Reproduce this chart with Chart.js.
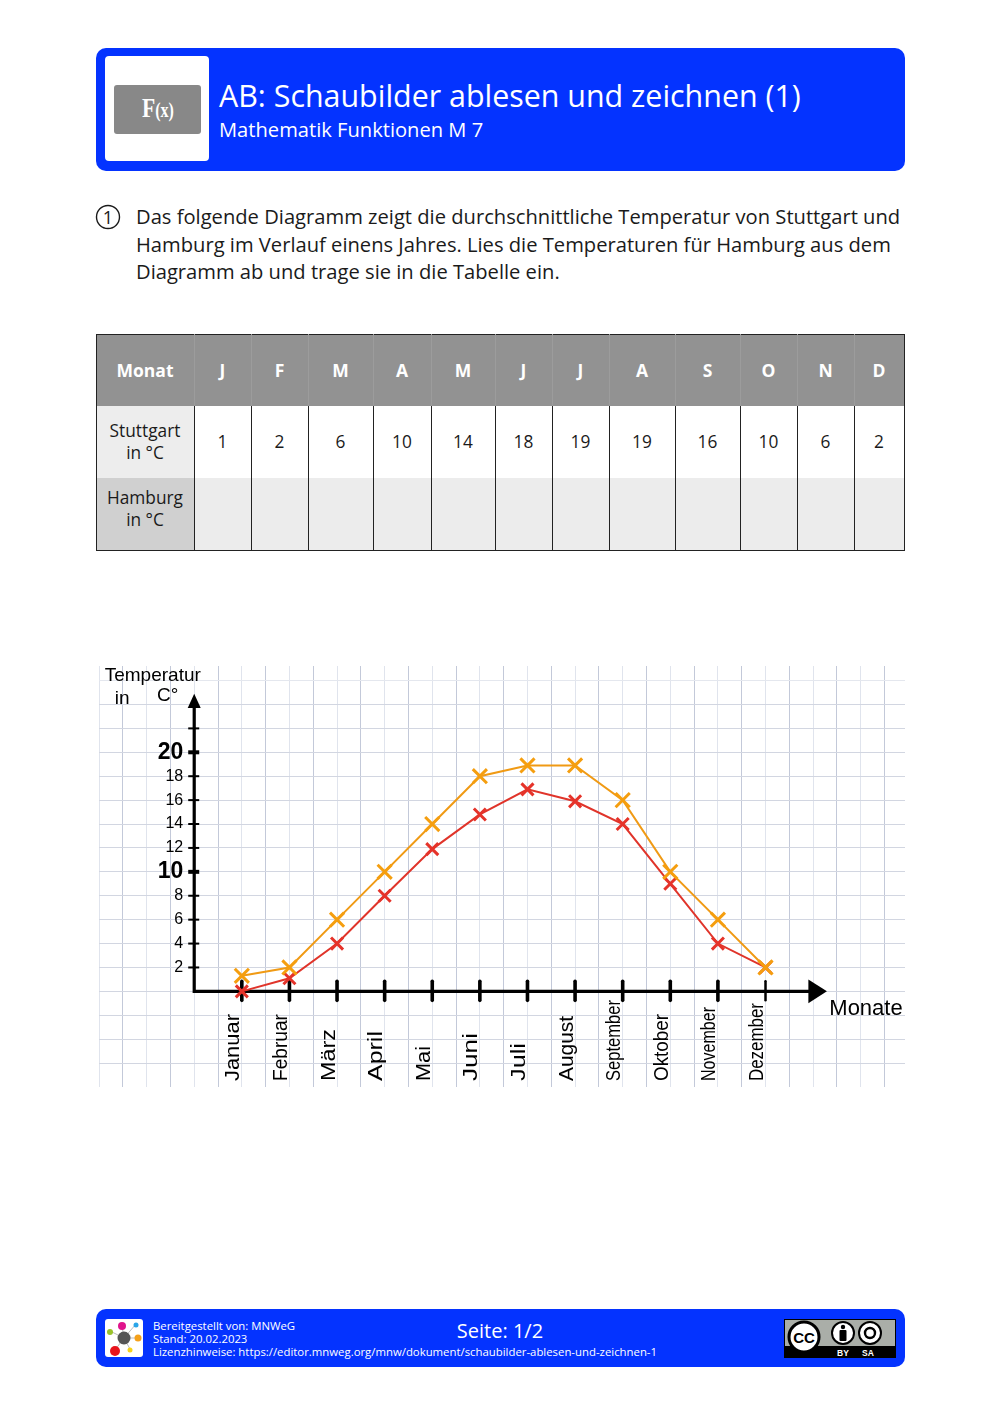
<!DOCTYPE html>
<html lang="de">
<head>
<meta charset="utf-8">
<title>AB: Schaubilder ablesen und zeichnen (1)</title>
<script src="https://cdn.jsdelivr.net/npm/chart.js@4"></script>
<style>
  html, body { margin: 0; padding: 0; background: #fff; }
  body { width: 1000px; height: 1416px; position: relative; overflow: hidden; font-family: "Open Sans", sans-serif; color: #1a1a1a; }
  .abs { position: absolute; }
  .bar { position: absolute; left: 96px; width: 809px; background: #0433ff; border-radius: 10px; color: #fff; }
  #chartBox { position: absolute; left: 98.9px; top: 666px; width: 806px; height: 421px; }
  table { position: absolute; left: 95.5px; top: 334px; width: 808px; height: 215.5px; border-collapse: collapse; table-layout: fixed; border: 1.5px solid #222; }
  th { background: #929292; color: #fff; font-size: 17.5px; font-weight: 700; height: 71px; padding: 0; border-left: 1px solid #9c9c9c; box-sizing: border-box; }
  td { font-size: 17.3px; text-align: center; padding: 0; line-height: 22px; border-left: 1.5px solid #222; height: 72px; }
  th:first-child, td:first-child { border-left: none; }
  td.rowA { background: #ededed; }
  td.rowB { background: #d0d0d0; padding-bottom: 10px; height: 62px; }
  tr.empty td { background: #ececec; }
  tr.empty td.rowB { background: #d0d0d0; }
</style>
</head>
<body>

<div class="bar" style="top:48px;height:123px"></div>
<div class="abs" style="left:105px;top:56px;width:104px;height:105px;background:#fff;border-radius:4px"></div>
<div class="abs" style="left:114px;top:85px;width:87px;height:49px;background:#888;border-radius:3px;color:#fff;text-align:center;font:bold 27px/47px 'Liberation Serif',serif"><span style="display:inline-block;transform:scaleX(.8)">F<span style="font-size:20px">(x)</span></span></div>
<div class="abs" style="left:219px;top:73.5px;color:#fff;font-size:30.4px;line-height:44px;white-space:nowrap">AB: Schaubilder ablesen und zeichnen (1)</div>
<div class="abs" style="left:219px;top:115px;color:#fff;font-size:20.15px;line-height:28px;white-space:nowrap">Mathematik Funktionen M 7</div>

<svg class="abs" style="left:95px;top:204px" width="28" height="28">
  <circle cx="13" cy="13" r="11.5" fill="none" stroke="#1a1a1a" stroke-width="1.4"/>
  <text x="13" y="19.5" text-anchor="middle" font-family="Open Sans" font-size="18" fill="#1a1a1a">1</text>
</svg>
<div class="abs" style="left:136px;top:203px;font-size:20.16px;line-height:27.5px;white-space:nowrap">Das folgende Diagramm zeigt die durchschnittliche Temperatur von Stuttgart und<br>Hamburg im Verlauf einens Jahres. Lies die Temperaturen für Hamburg aus dem<br>Diagramm ab und trage sie in die Tabelle ein.</div>

<table id="tabelle"></table>

<div id="chartBox"><canvas id="myChart"></canvas></div>

<div class="bar" style="top:1309px;height:58px"></div>
<svg class="abs" style="left:105px;top:1319px" width="38" height="38">
  <rect width="38" height="38" rx="3" fill="#fff"/>
  <g stroke="#bbb" stroke-width="1"><line x1="19" y1="19" x2="10" y2="31"/><line x1="19" y1="19" x2="17" y2="7"/><line x1="19" y1="19" x2="31" y2="5"/><line x1="19" y1="19" x2="5" y2="12"/><line x1="19" y1="19" x2="32" y2="19"/><line x1="19" y1="19" x2="25" y2="30"/></g>
  <circle cx="19" cy="19" r="6.5" fill="#555"/>
  <circle cx="10" cy="32" r="5" fill="#e8141c"/><circle cx="17" cy="7" r="4" fill="#e0148c"/><circle cx="31" cy="6" r="2.5" fill="#2aa5e8"/>
  <circle cx="5" cy="13" r="3" fill="#9ac22a"/><circle cx="33" cy="19" r="3.5" fill="#f5a11a"/><circle cx="25" cy="31" r="2.5" fill="#f5d21a"/>
</svg>
<div class="abs" style="left:153px;top:1319px;color:#fff;font-size:11.36px;line-height:13px;white-space:nowrap">Bereitgestellt von: MNWeG<br>Stand: 20.02.2023<br>Lizenzhinweise: https://editor.mnweg.org/mnw/dokument/schaubilder-ablesen-und-zeichnen-1</div>
<div class="abs" style="left:400px;width:200px;top:1317px;color:#fff;font-size:20px;line-height:28px;text-align:center">Seite: 1/2</div>
<svg class="abs" style="left:784px;top:1319px" width="112" height="39">
  <rect width="112" height="39" fill="#000"/>
  <rect x="1" y="1" width="110" height="26" fill="#aaaea8"/>
  <circle cx="20" cy="18" r="15" fill="#fff" stroke="#000" stroke-width="3"/>
  <text x="20" y="23.5" text-anchor="middle" font-family="Liberation Sans" font-weight="bold" font-size="15" fill="#000">CC</text>
  <circle cx="59" cy="14" r="11" fill="#fff" stroke="#000" stroke-width="2"/>
  <circle cx="59" cy="8" r="2.2" fill="#000"/><rect x="55.5" y="11" width="7" height="11" rx="1" fill="#000"/>
  <circle cx="86" cy="14" r="11" fill="#fff" stroke="#000" stroke-width="2"/>
  <circle cx="86" cy="14" r="5" fill="none" stroke="#000" stroke-width="2.4"/>
  <text x="59" y="37" text-anchor="middle" font-family="Liberation Sans" font-weight="bold" font-size="8.5" fill="#fff">BY</text>
  <text x="84" y="37" text-anchor="middle" font-family="Liberation Sans" font-weight="bold" font-size="8.5" fill="#fff">SA</text>
</svg>

<script>
// Tabelle
const tabelleKopf = ["Monat", "J", "F", "M", "A", "M", "J", "J", "A", "S", "O", "N", "D"];
const tabelleStuttgart = [1, 2, 6, 10, 14, 18, 19, 19, 16, 10, 6, 2];
const spaltenBreite = [98, 57, 57, 65, 58, 64, 57, 57, 66, 65, 57, 57, 50];

// Diagramm
const monate = ["Januar", "Februar", "März", "April", "Mai", "Juni", "Juli", "August", "September", "Oktober", "November", "Dezember"];
const temperaturStuttgart = [1.3, 2, 6, 10, 14, 18, 18.9, 18.9, 16, 10, 6, 2];
const temperaturHamburg = [0, 1.1, 4, 8, 11.9, 14.8, 16.9, 15.9, 14, 9, 4, 2];
const yBeschriftung = [2, 4, 6, 8, 10, 12, 14, 16, 18, 20];
const yStriche = [2, 4, 6, 8, 10, 12, 14, 16, 18, 20, 22];
const monatTextLaenge = [67, 67, 52, 50, 35, 48, 38, 65, 81, 67, 74, 78];

const handFont = '"Liberation Sans", sans-serif';

document.getElementById("tabelle").innerHTML =
  "<colgroup>" + spaltenBreite.map(w => `<col style="width:${w}px">`).join("") + "</colgroup>" +
  "<tr>" + tabelleKopf.map(t => `<th>${t}</th>`).join("") + "</tr>" +
  '<tr><td class="rowA">Stuttgart<br>in °C</td>' + tabelleStuttgart.map(v => `<td>${v}</td>`).join("") + "</tr>" +
  '<tr class="empty"><td class="rowB">Hamburg<br>in °C</td>' + tabelleStuttgart.map(() => "<td></td>").join("") + "</tr>";

// Achsen, Pfeile und Beschriftung von Hand, die Positionen kommen von den Skalen
const achsenPlugin = {
  id: "achsen",
  beforeDatasetsDraw(chart) {
    const { ctx, scales: { x, y } } = chart;
    const px = v => x.getPixelForValue(v), py = v => y.getPixelForValue(v);
    ctx.save();
    ctx.strokeStyle = "#000";
    ctx.fillStyle = "#000";
    ctx.lineCap = "butt";

    ctx.lineWidth = 3.2;
    ctx.beginPath();
    ctx.moveTo(px(-1), py(24));
    ctx.lineTo(px(-1), py(0));
    ctx.lineTo(px(12), py(0));
    ctx.stroke();

    ctx.beginPath();
    ctx.moveTo(px(-1), py(24.9));
    ctx.lineTo(px(-1) - 6.5, py(23.7));
    ctx.lineTo(px(-1) + 6.5, py(23.7));
    ctx.closePath();
    ctx.fill();

    ctx.beginPath();
    ctx.moveTo(px(12.29), py(0));
    ctx.lineTo(px(11.9), py(1));
    ctx.lineTo(px(11.9), py(-1));
    ctx.closePath();
    ctx.fill();

    yStriche.forEach(v => {
      ctx.lineWidth = v % 10 === 0 ? 4 : 2;
      ctx.beginPath();
      ctx.moveTo(px(-1) - 6, py(v));
      ctx.lineTo(px(-1) + 5, py(v));
      ctx.stroke();
    });

    ctx.lineCap = "round";
    monate.forEach((m, i) => {
      ctx.lineWidth = i === 11 ? 2.5 : 3.6;
      ctx.beginPath();
      ctx.moveTo(px(i), py(0.85));
      ctx.lineTo(px(i), py(-0.75));
      ctx.stroke();
    });

    // Monatsnamen, senkrecht
    ctx.font = "20px " + handFont;
    ctx.textAlign = "left";
    ctx.textBaseline = "middle";
    monate.forEach((m, i) => {
      ctx.save();
      ctx.translate(px(i) - 8, py(-7.5));
      ctx.rotate(-Math.PI / 2);
      ctx.scale(monatTextLaenge[i] / ctx.measureText(m).width, 1);
      ctx.fillText(m, 0, 0);
      ctx.restore();
    });

    ctx.font = "19px " + handFont;
    ctx.fillText("Temperatur", px(-2.88), py(26.4));
    ctx.fillText("in", px(-2.67), py(24.5));
    ctx.fillText("C°", px(-1.78), py(24.7));
    ctx.font = "22px " + handFont;
    ctx.fillText("Monate", px(12.34), py(-1.45));
    ctx.restore();
  }
};

new Chart(document.getElementById("myChart"), {
  type: "line",
  data: {
    datasets: [
      {
        label: "Stuttgart",
        data: temperaturStuttgart.map((v, i) => ({ x: i, y: v })),
        borderColor: "#f09a14",
        borderWidth: 2,
        pointStyle: "crossRot",
        pointRadius: 10,
        pointBorderWidth: 3,
        pointBorderColor: "#f59e0f",
        tension: 0,
        clip: false,
      },
      {
        label: "Hamburg",
        data: temperaturHamburg.map((v, i) => ({ x: i, y: v })),
        borderColor: "#e0342a",
        borderWidth: 2,
        pointStyle: "crossRot",
        pointRadius: 8.5,
        pointBorderWidth: 3,
        pointBorderColor: "#e5332a",
        tension: 0,
        clip: false,
      },
    ],
  },
  options: {
    responsive: true,
    maintainAspectRatio: false,
    animation: false,
    layout: { padding: 0, autoPadding: false },
    plugins: { legend: { display: false }, tooltip: { enabled: false } },
    scales: {
      x: {
        type: "linear",
        position: { y: 0 },
        min: -3,
        max: 13.93,
        border: { display: false },
        grid: {
          drawTicks: false,
          lineWidth: 1,
          color: c => (Math.abs(c.tick.value % 1) === 0.5 ? "#c3c9d9" : "#e0e4ed"),
        },
        ticks: { display: false, stepSize: 0.5, includeBounds: false },
      },
      y: {
        type: "linear",
        // die Beschriftung steht links neben der Achse, die Achse selbst zeichnet das Plugin
        position: { x: -1.23 },
        min: -8,
        max: 27.22,
        border: { display: false },
        grid: {
          drawTicks: false,
          lineWidth: 1,
          color: c => (c.tick.value === 26 ? "#e4e7ee" : "#d2d6e1"),
        },
        ticks: {
          stepSize: 2,
          includeBounds: false,
          color: "#000",
          autoSkip: false,
          font: c => (c.tick && c.tick.value % 10 === 0
            ? { family: handFont, size: 23, weight: "bold" }
            : { family: handFont, size: 16 }),
          callback: v => (yBeschriftung.includes(v) ? String(v) : ""),
        },
        afterFit(scale) {
          scale.paddingTop = 0;
          scale.paddingBottom = 0;
        },
      },
    },
  },
  plugins: [achsenPlugin],
});
</script>
</body>
</html>
